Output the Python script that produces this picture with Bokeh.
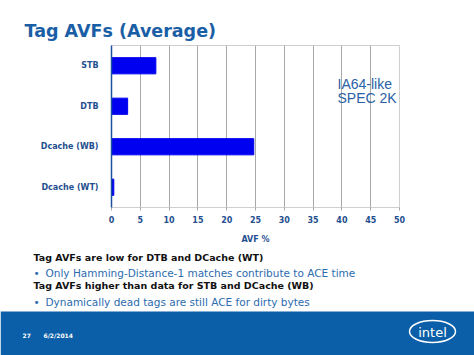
from bokeh.plotting import figure
from bokeh.models import Range1d, FactorRange, FixedTicker, Label
from bokeh.layouts import column, row
from bokeh.embed import file_html
from bokeh.resources import INLINE
from bokeh.core.properties import value

# ---- data ----
categories = ["Dcache (WT)", "Dcache (WB)", "DTB", "STB"]
avf_values = [0.4, 24.7, 2.8, 7.7]
x_ticks = [0, 5, 10, 15, 20, 25, 30, 35, 40, 45, 50]

title_text = "Tag AVFs (Average)"
note_lines = ["IA64-like", "SPEC 2K"]
bullets = [
    ("Tag AVFs are low for DTB and DCache (WT)", "head"),
    ("Only Hamming-Distance-1 matches contribute to ACE time", "sub"),
    ("Tag AVFs higher than data for STB and DCache (WB)", "head"),
    ("Dynamically dead tags are still ACE for dirty bytes", "sub"),
]
footer_page = "27"
footer_date = "6/2/2014"

FONT = "DejaVu Sans"
LABEL_BLUE = "#1f4f8f"


def blank(height, y0, y1):
    f = figure(width=474, height=height, x_range=Range1d(0, 474), y_range=Range1d(y1, y0),
               output_backend="svg", toolbar_location=None, min_border=0)
    f.axis.visible = False
    f.grid.visible = False
    f.outline_line_color = None
    return f


# ---- header figure (title) ----
h = blank(44, 0, 44)
h.text(x=[24], y=[30], text=[title_text], text_font=value(FONT), text_font_style="bold",
       text_font_size="17.5px", text_color="#1a5ea6", text_baseline="alphabetic")

# ---- chart figure ----
p = figure(width=474, height=206, y_range=FactorRange(*categories, range_padding=0),
           x_range=Range1d(0, 50), output_backend="svg", toolbar_location=None,
           min_border_left=111, min_border_right=75, min_border_top=1, min_border_bottom=43)
p.hbar(y=categories, right=avf_values, left=0, height=0.4, color="#0000f0")

p.outline_line_color = "#cfcfcf"
p.ygrid.grid_line_color = None
p.xgrid.ticker = FixedTicker(ticks=x_ticks)
p.xgrid.grid_line_color = "#a8a8a8"
p.xgrid.grid_line_width = 1

p.xaxis.ticker = FixedTicker(ticks=x_ticks)
p.xaxis.axis_line_color = "#cfcfcf"
p.xaxis.major_tick_line_color = "#a8a8a8"
p.xaxis.major_tick_out = 3
p.xaxis.major_tick_in = 0
p.xaxis.minor_tick_line_color = None
p.xaxis.major_label_text_font = FONT
p.xaxis.major_label_text_font_style = "bold"
p.xaxis.major_label_text_font_size = "8px"
p.xaxis.major_label_text_color = LABEL_BLUE
p.xaxis.major_label_standoff = 5
p.xaxis.axis_label = "AVF %"
p.xaxis.axis_label_text_font = FONT
p.xaxis.axis_label_text_font_style = "bold"
p.xaxis.axis_label_text_font_size = "8px"
p.xaxis.axis_label_text_color = LABEL_BLUE
p.xaxis.axis_label_standoff = 9

p.yaxis.axis_line_color = "#1f4f9f"
p.yaxis.axis_line_width = 1.5
p.yaxis.major_tick_line_color = None
p.yaxis.minor_tick_line_color = None
p.yaxis.major_label_text_font = FONT
p.yaxis.major_label_text_font_style = "bold"
p.yaxis.major_label_text_font_size = "8px"
p.yaxis.major_label_text_color = LABEL_BLUE
p.yaxis.major_label_standoff = 7

# note inside plot (screen units relative to frame bottom-left)
for i, t in enumerate(note_lines):
    p.add_layout(Label(x=226, y=124 - i * 14, x_units="screen", y_units="screen", text=t,
                       text_font="Liberation Sans", text_font_size="14px",
                       text_color="#2a62a6", text_baseline="alphabetic"))

# ---- lower figure: bullets and footer ----
q = blank(105, 250, 355)
ys = [256.5, 272, 285, 301]
for (t, kind), y in zip(bullets, ys):
    if kind == "head":
        q.text(x=[33], y=[y], text=[t], text_font=value(FONT), text_font_style="bold",
               text_font_size="9.5px", text_color="#111111", text_baseline="alphabetic")
    else:
        q.text(x=[33], y=[y], text=["\u2022"], text_font=value(FONT),
               text_font_size="10.5px", text_color="#2c6cb0", text_baseline="alphabetic")
        q.text(x=[45], y=[y], text=[t], text_font=value(FONT),
               text_font_size="10.5px", text_color="#2c6cb0", text_baseline="alphabetic")

q.quad(left=[0], right=[474], top=[311], bottom=[355], color="#0b5fa8", line_color=None)
q.text(x=[22], y=[335], text=[footer_page], text_font=value(FONT), text_font_style="bold",
       text_font_size="6px", text_color="white", text_baseline="alphabetic")
q.text(x=[43], y=[335], text=[footer_date], text_font=value(FONT), text_font_style="bold",
       text_font_size="6px", text_color="white", text_baseline="alphabetic")
q.ellipse(x=[432], y=[331], width=46, height=22, fill_color=None, line_color="white", line_width=1.5)
q.text(x=[432], y=[332], text=["intel"], text_font=value(FONT), text_font_size="13px",
       text_color="white", text_align="center", text_baseline="middle")

layout = column(row(h), p, row(q), spacing=0)
open("out.html", "w").write(file_html(layout, INLINE))
